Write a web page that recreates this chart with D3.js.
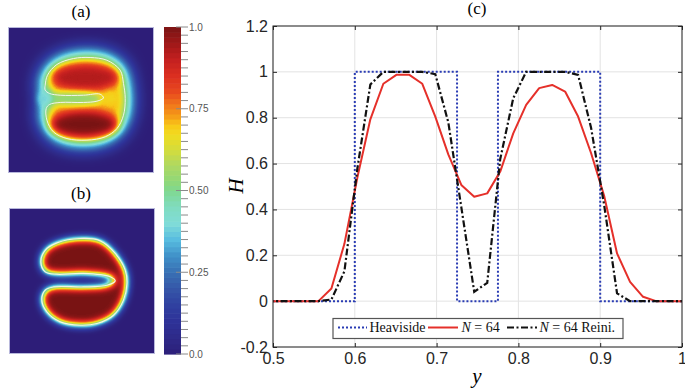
<!DOCTYPE html>
<html><head><meta charset="utf-8">
<script src="https://cdn.jsdelivr.net/npm/d3@7"></script>
<style>body{margin:0;background:#fff}svg{display:block}</style>
</head><body>
<svg id="c" width="685" height="389"></svg>
<script>
// ---------------- data ----------------
const gridY = [0.4921,0.5079,0.5238,0.5397,0.5556,0.5714,0.5873,0.6032,0.6190,0.6349,0.6508,0.6667,0.6825,0.6984,0.7143,0.7302,0.7460,0.7619,0.7778,0.7937,0.8095,0.8254,0.8413,0.8571,0.8730,0.8889,0.9048,0.9206,0.9365,0.9524,0.9683,0.9841,1.0];
const hN64 = [0,0,0,0,0,0.055,0.25,0.54,0.793,0.948,0.987,0.987,0.948,0.805,0.64,0.507,0.455,0.47,0.565,0.732,0.856,0.929,0.943,0.914,0.805,0.645,0.46,0.208,0.084,0.019,0,0,0];
const hReini = [0,0,0,0,0,0.007,0.13,0.58,0.945,1,1,1,1,0.99,0.78,0.41,0.041,0.08,0.62,0.885,1,1,1,1,0.987,0.755,0.42,0.034,0,0,0,0,0];
const heavisideY = [0.5,0.6,0.6,0.725,0.725,0.775,0.775,0.9,0.9,1.0];
const heavisideH = [0,0,1,1,0,0,1,1,0,0];
const xTicks = [0.5,0.6,0.7,0.8,0.9,1];
const yTicks = [-0.2,0,0.2,0.4,0.6,0.8,1,1.2];
const cbMajor = [0,0.25,0.5,0.75,1];
const cbLabels = ["0.0","0.25","0.50","0.75","1.0"];
const cmapStops  = [0,0.05,0.10,0.15,0.20,0.25,0.30,0.35,0.40,0.45,0.50,0.53,0.58,0.62,0.67,0.70,0.73,0.77,0.80,0.85,0.90,0.95,1.0];
const cmapColors = ["#2d1e78","#2e2a88","#2e3298","#3040a0","#3556a8","#3870b4","#4090c8","#58bce0","#80dcd8","#80dcc0","#80d890","#90d878","#b0d860","#d0dc40","#f0dc20","#f8c818","#f59a18","#ef701c","#e84a1e","#dc3020","#c42020","#a01818","#7a1414"];
// interface contours of the two fields (normalised panel coordinates)
const outlineA = [[0.253,0.398],[0.269,0.329],[0.334,0.255],[0.448,0.214],[0.563,0.207],[0.679,0.226],[0.77,0.294],[0.793,0.386],[0.805,0.49],[0.793,0.605],[0.748,0.697],[0.667,0.754],[0.541,0.777],[0.403,0.766],[0.31,0.72],[0.265,0.639],[0.26,0.559],[0.283,0.531],[0.357,0.517],[0.517,0.517],[0.61,0.508],[0.655,0.486],[0.632,0.46],[0.517,0.467],[0.357,0.467],[0.283,0.455],[0.253,0.432]];
const outlineB = [[0.2166,0.368],[0.246,0.288],[0.327,0.237],[0.488,0.207],[0.626,0.223],[0.729,0.31],[0.798,0.425],[0.81,0.517],[0.786,0.632],[0.717,0.736],[0.603,0.793],[0.488,0.805],[0.35,0.782],[0.258,0.713],[0.223,0.632],[0.246,0.563],[0.304,0.541],[0.511,0.541],[0.672,0.529],[0.729,0.499],[0.694,0.471],[0.511,0.448],[0.327,0.453],[0.246,0.437]];
// field plateaus inside panel (a): [cx, cy, rx, ry, level]
const lobesA = [[0.53,0.345,0.23,0.09,0.92],[0.52,0.667,0.23,0.088,1.0],[0.44,0.49,0.22,0.045,0.52],[0.25,0.49,0.05,0.06,0.38],[0.7,0.49,0.06,0.06,0.68]];
const lobesB = [];

// ---------------- setup ----------------
const svg = d3.select("#c");
const defs = svg.append("defs");
const cmap = d3.scaleLinear().domain(cmapStops).range(cmapColors).interpolate(d3.interpolateRgb).clamp(true);
const gray = v => { const g = Math.round(v*255); return d3.rgb(g,g,g).formatHex(); };

const samples = d3.range(0, 1.0001, 0.01).map(v => d3.rgb(cmap(v)));
const fC = defs.append("filter").attr("id","cmap").attr("filterUnits","userSpaceOnUse")
  .attr("x",0).attr("y",0).attr("width",685).attr("height",389).attr("color-interpolation-filters","sRGB");
const ct = fC.append("feComponentTransfer");
ct.append("feFuncR").attr("type","table").attr("tableValues", samples.map(c=>(c.r/255).toFixed(4)).join(" "));
ct.append("feFuncG").attr("type","table").attr("tableValues", samples.map(c=>(c.g/255).toFixed(4)).join(" "));
ct.append("feFuncB").attr("type","table").attr("tableValues", samples.map(c=>(c.b/255).toFixed(4)).join(" "));
function blurFilter(id, s){
  defs.append("filter").attr("id",id).attr("filterUnits","userSpaceOnUse")
    .attr("x",-50).attr("y",-50).attr("width",800).attr("height",500)
    .attr("color-interpolation-filters","sRGB")
    .append("feGaussianBlur").attr("stdDeviation", s);
}
blurFilter("bA",9); blurFilter("bL",5); blurFilter("bS",3.5); blurFilter("bB",4.2);

function fieldPanel(p, outline, base, lobes, lobeBlur, contourColor, contourW){
  const px = d3.scaleLinear([0,1],[p.x, p.x+p.s]);
  const py = d3.scaleLinear([0,1],[p.y, p.y+p.s]);
  defs.append("clipPath").attr("id",p.id).append("rect").attr("x",p.x).attr("y",p.y).attr("width",p.s).attr("height",p.s);
  const outer = svg.append("g").attr("clip-path",`url(#${p.id})`);
  const field = outer.append("g").attr("filter","url(#cmap)");
  field.append("rect").attr("x",p.x-60).attr("y",p.y-60).attr("width",p.s+120).attr("height",p.s+120).attr("fill","#000");
  const line = d3.line().x(d=>px(d[0])).y(d=>py(d[1])).curve(d3.curveCatmullRomClosed.alpha(0.5));
  field.append("g").attr("filter",`url(#${base.blur})`).append("path")
    .attr("d", line(outline)).attr("fill", gray(base.level))
    .attr("stroke", gray(base.level)).attr("stroke-width", base.dilate*2).attr("stroke-linejoin","round")
    .attr("stroke-opacity", base.dilate>0?1:0);
  lobes.forEach((b,i) => {
    field.append("g").attr("filter",`url(#${i>=2?"bS":lobeBlur})`).append("ellipse")
      .attr("cx",px(b[0])).attr("cy",py(b[1])).attr("rx",b[2]*p.s).attr("ry",b[3]*p.s).attr("fill",gray(b[4]));
  });
  outer.append("path").attr("d", line(outline)).attr("fill","none").attr("stroke",contourColor).attr("stroke-width",contourW);
  svg.append("rect").attr("x",p.x).attr("y",p.y).attr("width",p.s).attr("height",p.s)
    .attr("fill","none").attr("stroke","#b8b8dc").attr("stroke-width",1);
}
fieldPanel({id:"pA",x:8.5,y:27.5,s:145}, outlineA, {level:0.74,dilate:6,blur:"bA"}, lobesA, "bL", "#f2f4ee", 1);
fieldPanel({id:"pB",x:9.5,y:208.5,s:145}, outlineB, {level:1.0,dilate:0,blur:"bB"}, lobesB, "bL", "#f6f6e0", 1.2);

const serif = "'Liberation Serif','Times New Roman',serif";
const sans = "'Liberation Sans',Arial,sans-serif";
svg.append("text").attr("x",81).attr("y",17).attr("text-anchor","middle").attr("font-family",serif).attr("font-size",17).text("(a)");
svg.append("text").attr("x",81).attr("y",199).attr("text-anchor","middle").attr("font-family",serif).attr("font-size",17).text("(b)");

// colorbar
const cb = {x:164, y:27, w:17, h:327};
const cbScale = d3.scaleLinear([0,1],[cb.y+cb.h, cb.y]);
const nBands = 64;
svg.append("g").selectAll("rect").data(d3.range(nBands)).join("rect")
  .attr("x",cb.x).attr("width",cb.w)
  .attr("y", i => cbScale((i+1)/nBands)).attr("height", cb.h/nBands+0.6)
  .attr("fill", i => cmap((i+0.5)/nBands));
svg.append("g").selectAll("line").data(d3.range(0,41)).join("line")
  .attr("x1", i => i%10===0 ? 176 : 181).attr("x2",188)
  .attr("y1", i => cbScale(i/40)).attr("y2", i => cbScale(i/40))
  .attr("stroke","#8a8a8a").attr("stroke-width",1);
svg.append("g").selectAll("text").data(cbMajor).join("text")
  .attr("x",189).attr("y", d => cbScale(d)+3.6).attr("font-family",sans).attr("font-size",10).attr("fill","#555")
  .text((d,i)=>cbLabels[i]);

// ---------------- line chart (c) ----------------
const L = {l:273, r:682, t:26, b:347};
const x = d3.scaleLinear([0.5,1],[L.l,L.r]);
const y = d3.scaleLinear([-0.2,1.2],[L.b,L.t]);
const g = svg.append("g");
const fmt = d => String(+d.toFixed(1));
g.append("g").selectAll("line").data(xTicks).join("line")
  .attr("x1",d=>x(d)).attr("x2",d=>x(d)).attr("y1",L.t).attr("y2",L.b).attr("stroke","#e3e3e3").attr("stroke-width",1);
g.append("g").selectAll("line").data(yTicks).join("line")
  .attr("y1",d=>y(d)).attr("y2",d=>y(d)).attr("x1",L.l).attr("x2",L.r).attr("stroke","#e3e3e3").attr("stroke-width",1);

const axB = g.append("g").attr("transform",`translate(0,${L.b})`)
  .call(d3.axisBottom(x).tickValues(xTicks).tickSizeInner(-4).tickSizeOuter(0).tickPadding(6).tickFormat(fmt));
const axT = g.append("g").attr("transform",`translate(0,${L.t})`)
  .call(d3.axisTop(x).tickValues(xTicks).tickSizeInner(-4).tickSizeOuter(0).tickFormat(""));
const axL = g.append("g").attr("transform",`translate(${L.l},0)`)
  .call(d3.axisLeft(y).tickValues(yTicks).tickSizeInner(-4).tickSizeOuter(0).tickPadding(5).tickFormat(fmt));
const axR = g.append("g").attr("transform",`translate(${L.r},0)`)
  .call(d3.axisRight(y).tickValues(yTicks).tickSizeInner(-4).tickSizeOuter(0).tickFormat(""));
[axB,axT,axL,axR].forEach(a => {
  a.select(".domain").remove();
  a.selectAll("line").attr("stroke","#262626");
  a.selectAll("text").attr("font-family",sans).attr("font-size",16).attr("fill","#262626");
});

const clip = defs.append("clipPath").attr("id","plotclip");
clip.append("rect").attr("x",L.l).attr("y",L.t).attr("width",L.r-L.l).attr("height",L.b-L.t);
const plot = g.append("g").attr("clip-path","url(#plotclip)");
const ln = d3.line().x(d=>x(d[0])).y(d=>y(d[1]));
plot.append("path").attr("d", ln(heavisideY.map((v,i)=>[v,heavisideH[i]])))
  .attr("fill","none").attr("stroke","#2a3cb4").attr("stroke-width",2).attr("stroke-dasharray","2,2");
plot.append("path").attr("d", ln(gridY.map((v,i)=>[v,hN64[i]])))
  .attr("fill","none").attr("stroke","#e5302a").attr("stroke-width",2).attr("stroke-linejoin","round");
plot.append("path").attr("d", ln(gridY.map((v,i)=>[v,hReini[i]])))
  .attr("fill","none").attr("stroke","#111").attr("stroke-width",2.2).attr("stroke-dasharray","7,2.5,2,2.5");

g.append("rect").attr("x",L.l).attr("y",L.t).attr("width",L.r-L.l).attr("height",L.b-L.t)
  .attr("fill","none").attr("stroke","#262626").attr("stroke-width",1);

// legend
const lg = g.append("g");
lg.append("rect").attr("x",333).attr("y",318.5).attr("width",290).attr("height",20)
  .attr("fill","#fff").attr("stroke","#555").attr("stroke-width",1.2);
const ly = 327.5;
lg.append("line").attr("x1",338).attr("x2",367).attr("y1",ly).attr("y2",ly).attr("stroke","#2a3cb4").attr("stroke-width",2).attr("stroke-dasharray","2,2");
lg.append("line").attr("x1",428).attr("x2",458).attr("y1",ly).attr("y2",ly).attr("stroke","#e5302a").attr("stroke-width",2);
lg.append("line").attr("x1",507).attr("x2",537).attr("y1",ly).attr("y2",ly).attr("stroke","#111").attr("stroke-width",2.2).attr("stroke-dasharray","7,2.5,2,2.5");
lg.append("text").attr("x",369.5).attr("y",332).attr("font-family",serif).attr("font-size",14).attr("fill","#111").text("Heaviside");
const t2 = lg.append("text").attr("x",461.5).attr("y",332).attr("font-family",serif).attr("font-size",14).attr("fill","#111");
t2.append("tspan").attr("font-style","italic").text("N");
t2.append("tspan").text(" = 64");
const t3 = lg.append("text").attr("x",539.5).attr("y",332).attr("font-family",serif).attr("font-size",14).attr("fill","#111");
t3.append("tspan").attr("font-style","italic").text("N");
t3.append("tspan").text(" = 64 Reini.");

// labels
svg.append("text").attr("x",477).attr("y",14).attr("text-anchor","middle").attr("font-family",serif).attr("font-size",17).text("(c)");
svg.append("text").attr("x",477).attr("y",383).attr("text-anchor","middle").attr("font-family",serif).attr("font-style","italic").attr("font-size",21).text("y");
svg.append("text").attr("transform","translate(243,186) rotate(-90)").attr("text-anchor","middle").attr("font-family",serif).attr("font-style","italic").attr("font-size",21).text("H");
</script>
</body></html>
